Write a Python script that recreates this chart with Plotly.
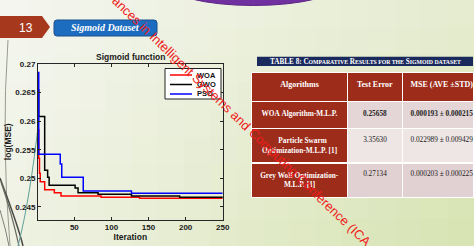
import numpy as np
import plotly.graph_objects as go

W, H = 474, 246

# ---------------- data ----------------
series_names = ["WOA", "GWO", "PSO"]
woa_iter = [1, 2, 3, 4, 10, 23, 32, 86, 138, 250]
woa_mse = [0.2585, 0.2535, 0.2509, 0.2494, 0.2480, 0.2475, 0.2469, 0.2467, 0.2465, 0.2465]
gwo_iter = [1, 2, 10, 14, 16, 51, 55, 82, 127, 192, 250]
gwo_mse = [0.2655, 0.2608, 0.2514, 0.2502, 0.2488, 0.2483, 0.2475, 0.2472, 0.2469, 0.2467, 0.2466]
pso_iter = [1, 2, 31, 33, 62, 127, 250]
pso_mse = [0.2685, 0.2542, 0.2525, 0.2502, 0.2478, 0.2474, 0.2474]

x_tickvals = [50, 100, 150, 200, 250]
y_tickvals = [0.245, 0.25, 0.255, 0.26, 0.265, 0.27]
y_ticktext = ["0.245", "0.25", "0.255", "0.26", "0.265", "0.27"]

table_header = ["Algorithms", "Test Error", "MSE (AVE ±STD)"]
table_algorithms = [["WOA Algorithm-M.L.P."],
                    ["Particle Swarm", "Optimization-M.L.P. [1]"],
                    ["Grey Wolf Optimization-", "M.L.P. [1]"]]
table_test_error = ["0.25658", "3.35630", "0.27134"]
table_mse = ["0.000193 ± 0.000215", "0.022989 ± 0.009429", "0.000203 ± 0.000225"]

slide_number = "13"
slide_title = "Sigmoid Dataset"
chart_title = "Sigmoid function"
table_caption = ("TABLE 8: C<span style='font-size:5.8px'>OMPARATIVE</span> "
                 "R<span style='font-size:5.8px'>ESULTS FOR THE</span> "
                 "S<span style='font-size:5.8px'>IGMOID DATASET</span>")
watermark = "ances in Intelligent Systems and Computing Conference (ICA"

# ---------------- helpers ----------------
def px(x):
    return x / W

def py(y):
    return 1 - y / H

def path(points, close=True):
    s = "M " + " L ".join(f"{px(x):.5f},{py(y):.5f}" for x, y in points)
    return s + (" Z" if close else "")

def hexc(c):
    return "#%02x%02x%02x" % tuple(int(round(v)) for v in c)

def nb(s):
    return s.replace(" ", "\u00a0")

def centered_lines(lines):
    # plotly tables left-align lines inside a centred block; pad shorter lines
    longest = max(len(l) for l in lines)
    out = []
    for l in lines:
        pad = int(round((longest - len(l)) * 1.0))
        out.append("\u00a0" * pad + nb(l))
    return "<br>".join(f"<b>{o}</b>" for o in out)

FONT_SANS = "Liberation Sans, Arial, sans-serif"
FONT_SERIF = "Liberation Serif, Times New Roman, serif"
DARK_RED = "#9e2c1b"

fig = go.Figure()

line_colors = ["#ff0000", "#000000", "#0000ff"]
for name, xs, ys, col in zip(series_names, [woa_iter, gwo_iter, pso_iter],
                             [woa_mse, gwo_mse, pso_mse], line_colors):
    fig.add_trace(go.Scatter(x=xs, y=ys, name=name, mode="lines",
                             line=dict(color=col, width=1.5, shape="hv"),
                             showlegend=False, hoverinfo="skip"))

row_fill = ["#e4d6d7", "#eee6e5", "#e2d1d3"]
fig.add_trace(go.Table(
    domain=dict(x=[px(251.5), 1.0], y=[0.17, py(72.3)]),
    columnwidth=[96, 55, 71],
    header=dict(values=[f"<b>{nb(h)}</b>" for h in table_header],
                fill_color=DARK_RED,
                font=dict(family=FONT_SERIF, size=8, color="white"),
                align=["center", "center", "left"],
                height=29, line=dict(color="white", width=1.5)),
    cells=dict(values=[[centered_lines(a) for a in table_algorithms],
                       [f"<b>{v}</b>" if i == 0 else v for i, v in enumerate(table_test_error)],
                       [f"<b>{nb(v)}</b>" if i == 0 else nb(v) for i, v in enumerate(table_mse)]],
               fill_color=[[DARK_RED] * 3, row_fill, row_fill],
               font=dict(family=FONT_SERIF, size=7.3,
                         color=[["white"] * 3, ["#222222"] * 3, ["#222222"] * 3]),
               align=["center", "center", "left"],
               height=27, line=dict(color="white", width=1.5)),
))

# ---------------- decorations ----------------
shapes = []
# background gradient
tl = np.array([0xf4, 0xf6, 0xf0]); tr = np.array([0xe6, 0xec, 0xd0])
bl = np.array([0xef, 0xf2, 0xe4]); br = np.array([0xd6, 0xe3, 0xb0])
nx, ny = 18, 9
for i in range(nx):
    for j in range(ny):
        u = (i + 0.5) / nx
        v = (j + 0.5) / ny
        c = (1 - u) * (1 - v) * tl + u * (1 - v) * tr + (1 - u) * v * bl + u * v * br
        shapes.append(dict(type="rect", xref="paper", yref="paper",
                           x0=i / nx, x1=(i + 1) / nx + 0.003,
                           y0=1 - (j + 1) / ny - 0.003, y1=1 - j / ny,
                           fillcolor=hexc(c), line=dict(width=0), layer="below"))
# purple arc top
shapes.append(dict(type="circle", xref="paper", yref="paper",
                   x0=px(165), x1=px(342), y0=py(5.5), y1=py(-40),
                   fillcolor="#7030a0", line=dict(color="#5b2385", width=1), layer="below"))
# decorative curves on left
for d, col, wdt in [
    ("M 8,40 Q 1,140 10,246", "#9a9a90", 1),
    ("M 0,178 C 8,200 18,225 23,246", "#4a4a44", 1.5),
    ("M 1,182 C 9,205 15,228 19,246", "#6a6a62", 1.2),
    ("M 39,118 Q 30,200 18,246", "#5f9f98", 1),
    ("M 0,210 Q 6,230 9,246", "#80807a", 1),
]:
    res = []
    for tok in d.split():
        if "," in tok:
            a, b = tok.split(",")
            res.append(f"{px(float(a)):.5f},{py(float(b)):.5f}")
        else:
            res.append(tok)
    shapes.append(dict(type="path", xref="paper", yref="paper", path=" ".join(res),
                       line=dict(color=col, width=wdt), layer="below"))
# slide number arrow
shapes.append(dict(type="path", xref="paper", yref="paper",
                   path=path([(0, 16), (42, 16), (50, 27), (42, 38), (0, 38)]),
                   fillcolor="#a6391d", line=dict(width=0), layer="below"))
# blue title box (rounded)
bx0, bx1, by0, by1, r = 54, 157, 20, 36, 3
rr = (f"M {px(bx0 + r)},{py(by0)} L {px(bx1 - r)},{py(by0)} Q {px(bx1)},{py(by0)} {px(bx1)},{py(by0 + r)} "
      f"L {px(bx1)},{py(by1 - r)} Q {px(bx1)},{py(by1)} {px(bx1 - r)},{py(by1)} "
      f"L {px(bx0 + r)},{py(by1)} Q {px(bx0)},{py(by1)} {px(bx0)},{py(by1 - r)} "
      f"L {px(bx0)},{py(by0 + r)} Q {px(bx0)},{py(by0)} {px(bx0 + r)},{py(by0)} Z")
shapes.append(dict(type="path", xref="paper", yref="paper", path=rr,
                   fillcolor="#1c6cc0", line=dict(color="#1a4e8c", width=1), layer="below"))
# table caption bar
shapes.append(dict(type="rect", xref="paper", yref="paper",
                   x0=px(257), x1=px(473), y0=py(66), y1=py(56.7),
                   fillcolor="#1b2a5c", line=dict(width=0), layer="below"))
# manual compact legend box + samples
shapes.append(dict(type="rect", xref="paper", yref="paper",
                   x0=px(165), x1=px(221), y0=py(99), y1=py(68.5),
                   fillcolor="white", line=dict(color="#222222", width=1), layer="above"))
leg_y = [75, 84.5, 94]
for yy, col in zip(leg_y, line_colors):
    shapes.append(dict(type="line", xref="paper", yref="paper",
                       x0=px(170), x1=px(192), y0=py(yy), y1=py(yy),
                       line=dict(color=col, width=1.5), layer="above"))

annotations = []
for yy, name in zip(leg_y, series_names):
    annotations.append(dict(text=f"<b>{name}</b>", xref="paper", yref="paper",
                            x=px(195), y=py(yy), xanchor="left", yanchor="middle",
                            showarrow=False, font=dict(family=FONT_SANS, size=7.5, color="#111111")))
annotations += [
    dict(text=slide_number, xref="paper", yref="paper", x=px(26), y=py(27.5),
         xanchor="center", yanchor="middle", showarrow=False,
         font=dict(family=FONT_SANS, size=12, color="white")),
    dict(text=f"<b><i>{slide_title}</i></b>", xref="paper", yref="paper", x=px(105.5), y=py(28),
         xanchor="center", yanchor="middle", showarrow=False,
         font=dict(family=FONT_SERIF, size=10, color="white")),
    dict(text=f"<b>{chart_title}</b>", xref="paper", yref="paper", x=px(130.5), y=py(57),
         xanchor="center", yanchor="middle", showarrow=False,
         font=dict(family=FONT_SANS, size=8.5, color="#1a1a1a")),
    dict(text=f"<b>{table_caption}</b>", xref="paper", yref="paper", x=px(365), y=py(61.5),
         xanchor="center", yanchor="middle", showarrow=False,
         font=dict(family=FONT_SERIF, size=7.2, color="white")),
    dict(text=watermark, xref="paper", yref="paper", x=px(242), y=py(121),
         xanchor="center", yanchor="middle", showarrow=False, textangle=44,
         font=dict(family=FONT_SANS, size=13, color="#ee1c1c")),
]

axis_common = dict(showgrid=False, zeroline=False, ticks="inside", ticklen=3,
                   linecolor="#262626", linewidth=1, mirror="ticks", showline=True,
                   tickcolor="#262626", automargin=False,
                   tickfont=dict(family=FONT_SANS, size=8, color="#1a1a1a", weight="bold"))

fig.update_layout(
    width=W, height=H, margin=dict(l=0, r=0, t=0, b=0),
    paper_bgcolor="#eef2e2", plot_bgcolor="white",
    showlegend=False,
    xaxis=dict(domain=[px(38), px(222.7)], range=[1, 250], tickvals=x_tickvals,
               title=dict(text="<b>Iteration</b>", standoff=2,
                          font=dict(family=FONT_SANS, size=8.5, color="#1a1a1a")),
               **axis_common),
    yaxis=dict(domain=[py(219.5), py(64)], range=[0.2428, 0.27], tickvals=y_tickvals,
               ticktext=y_ticktext,
               title=dict(text="<b>log(MSE)</b>", standoff=2,
                          font=dict(family=FONT_SANS, size=8.5, color="#1a1a1a")),
               **axis_common),
    shapes=shapes, annotations=annotations,
)

fig.write_html("out.html", config={"displayModeBar": False})
